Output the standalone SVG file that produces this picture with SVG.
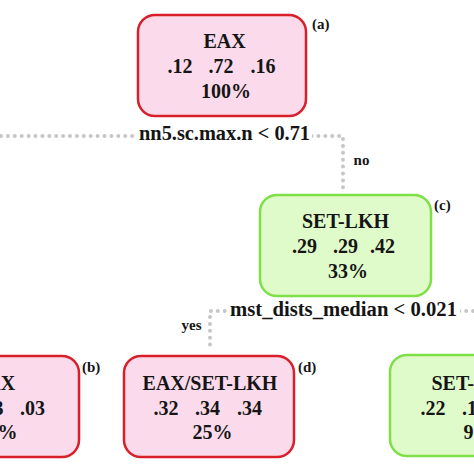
<svg xmlns="http://www.w3.org/2000/svg" width="474" height="474" viewBox="0 0 474 474">
<style>
text{font-family:"Liberation Serif","Times New Roman",serif;font-weight:bold;fill:#151515;text-anchor:middle}
.t{font-size:20px}
.s{font-size:15px}
.tag{font-size:15px;text-anchor:start}
.pink{fill:#fbdbeb;stroke:#d7202a;stroke-width:2.5}
.green{fill:#e0fbca;stroke:#7ee046;stroke-width:2.5}
.dots{fill:none;stroke:#c6c6c6;stroke-width:4;stroke-linecap:round;stroke-dasharray:0 6.9}
.bg{fill:#ffffff}
</style>
<rect width="474" height="474" fill="#ffffff"/>
<g id="connectors">
<path class="dots" d="M 1 136 H 343 V 191"/>
<path class="dots" d="M 480 311 H 210 V 349"/>
<rect class="bg" x="135" y="122" width="177" height="24"/>
<text class="t" x="224.5" y="140" textLength="171" lengthAdjust="spacingAndGlyphs">nn5.sc.max.n &lt; 0.71</text>
<text class="s" x="361.5" y="165">no</text>
<rect class="bg" x="227" y="298" width="233" height="24"/>
<text class="t" x="343.5" y="316" textLength="227" lengthAdjust="spacingAndGlyphs">mst_dists_median &lt; 0.021</text>
<text class="s" x="191.5" y="330">yes</text>
</g>
<g id="node-a">
<rect class="pink" x="138" y="15" width="168" height="101" rx="17"/>
<text class="t" x="224.5" y="48">EAX</text>
<text class="t" x="180" y="73">.12</text>
<text class="t" x="221" y="73">.72</text>
<text class="t" x="263" y="73">.16</text>
<text class="t" x="226" y="98">100%</text>
<text class="tag" x="312" y="29">(a)</text>
</g>
<g id="node-c">
<rect class="green" x="260" y="195" width="171" height="101" rx="17"/>
<text class="t" x="345.5" y="228">SET-LKH</text>
<text class="t" x="304.5" y="253">.29</text>
<text class="t" x="345.5" y="253">.29</text>
<text class="t" x="382.5" y="253">.42</text>
<text class="t" x="348" y="278">33%</text>
<text class="tag" x="434" y="210">(c)</text>
</g>
<g id="node-b">
<rect class="pink" x="-91" y="356" width="170" height="101" rx="17"/>
<text class="t" x="-6" y="390">EAX</text>
<text class="t" x="-48" y="415">.04</text>
<text class="t" x="-9" y="415">.93</text>
<text class="t" x="32.5" y="415">.03</text>
<text class="t" x="-2.5" y="439">67%</text>
<text class="tag" x="82" y="372">(b)</text>
</g>
<g id="node-d">
<rect class="pink" x="124" y="356" width="170" height="101" rx="17"/>
<text class="t" x="210" y="390">EAX/SET-LKH</text>
<text class="t" x="166" y="415">.32</text>
<text class="t" x="207.5" y="415">.34</text>
<text class="t" x="249.5" y="415">.34</text>
<text class="t" x="212.5" y="439">25%</text>
<text class="tag" x="298" y="372">(d)</text>
</g>
<g id="node-e">
<rect class="green" x="390" y="355" width="170" height="101" rx="17"/>
<text class="t" x="475" y="390">SET-LKH</text>
<text class="t" x="433" y="415">.22</text>
<text class="t" x="474" y="415">.11</text>
<text class="t" x="516" y="415">.67</text>
<text class="t" x="478.5" y="439">9%</text>
</g>
</svg>
